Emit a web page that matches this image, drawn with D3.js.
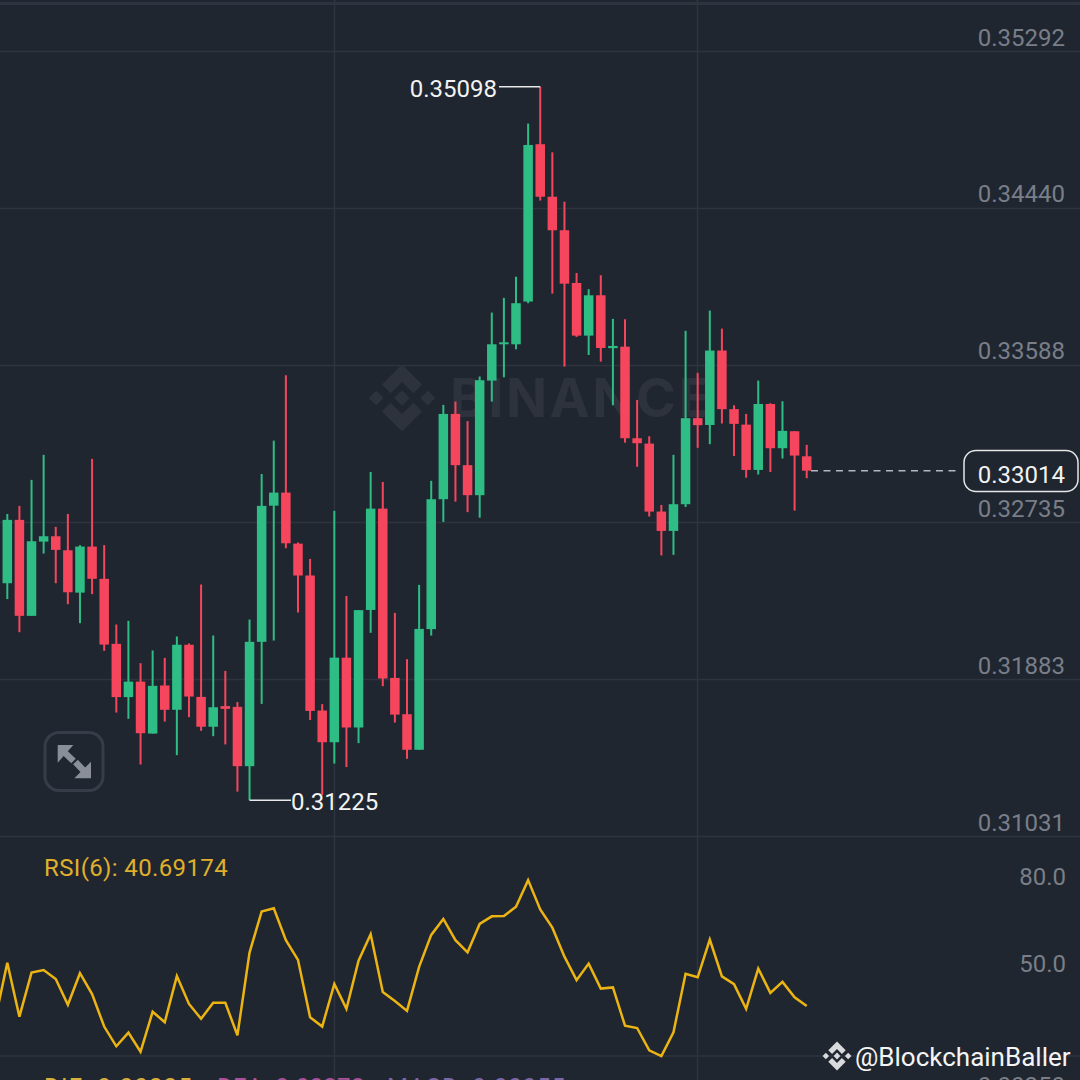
<!DOCTYPE html>
<html><head><meta charset="utf-8">
<script src="https://cdn.jsdelivr.net/npm/d3@7/dist/d3.min.js"></script>
<style>html,body{margin:0;padding:0;background:#1f2630;overflow:hidden}svg{display:block}text{font-family:Roboto,sans-serif}</style>
</head><body><svg id="c" width="1080" height="1080"></svg>
<script>
const opens=[.32403,.32747,.32226,.32629,.32658,.32582,.32352,.32602,.32427,.32074,.31785,.31869,.31587,.31848,.31716,.32069,.31786,.31624,.31736,.31732,.31410,.32085,.32824,.32895,.32618,.32445,.31712,.31540,.31999,.31620,.32258,.32808,.31889,.31692,.31499,.32154,.32859,.33322,.33044,.32881,.33503,.33700,.33700,.33932,.34786,.34501,.34319,.34033,.33747,.33966,.33679,.33687,.33190,.33161,.32792,.32687,.32832,.33299,.33262,.33666,.33348,.33264,.33018,.33376,.33136,.33228,.33092];
const highs=[.32779,.32823,.32964,.33100,.32709,.32779,.32610,.33078,.32610,.32179,.32199,.31969,.32038,.31998,.32114,.32076,.32396,.32119,.31927,.31758,.32206,.32996,.33177,.33532,.32624,.32535,.31747,.32796,.32334,.32257,.33007,.32953,.32242,.31991,.32394,.32959,.33371,.33389,.33283,.33525,.33872,.33952,.34067,.34898,.35098,.34742,.34474,.34087,.33999,.34075,.33838,.33836,.33398,.33201,.32828,.33100,.33773,.33545,.33883,.33785,.33369,.33322,.33503,.33380,.33391,.33228,.33154];
const lows=[.32317,.32137,.32226,.32564,.32403,.32289,.32186,.32344,.32036,.31701,.31667,.31419,.31587,.31652,.31470,.31676,.31602,.31573,.31528,.31272,.31225,.31748,.32092,.32593,.32244,.31661,.31254,.31424,.31405,.31535,.32134,.31844,.31647,.31450,.31499,.32119,.32736,.32846,.32789,.32759,.33389,.33521,.33673,.33923,.34480,.33975,.33579,.33740,.33642,.33606,.33369,.33166,.33035,.32765,.32554,.32557,.32817,.33138,.33158,.33270,.33094,.32976,.32993,.33007,.33080,.32797,.32973];
const closes=[.32747,.32226,.32631,.32658,.32584,.32354,.32602,.32427,.32070,.31785,.31869,.31589,.31846,.31716,.32069,.31788,.31624,.31730,.31721,.31410,.32085,.32823,.32895,.32620,.32445,.31710,.31540,.31999,.31620,.32257,.32808,.31886,.31690,.31499,.32155,.32859,.33322,.33044,.32881,.33505,.33700,.33711,.33923,.34782,.34501,.34319,.34029,.33747,.33966,.33680,.33691,.33190,.33163,.32792,.32687,.32832,.33299,.33261,.33666,.33348,.33268,.33018,.33376,.33136,.33230,.33096,.33014];
const rsiBeforeFirst=36.0;
const rsi=[55.6,37.0,52.2,53.1,50.0,41.1,52.0,44.8,33.6,26.8,31.5,24.9,38.7,35.1,51.0,41.4,36.3,41.8,41.8,30.6,59.1,73.3,74.4,63.4,56.6,36.8,33.6,48.3,39.7,56.3,65.4,45.5,42.4,39.0,54.2,65.2,70.7,63.4,59.2,69.0,71.6,71.7,74.9,84.1,74.0,67.7,57.7,49.6,55.3,46.7,47.1,33.9,33.1,25.4,23.4,31.6,51.8,50.6,63.6,50.9,48.2,39.7,53.6,45.2,49.0,43.7,40.69];
const priceTicks=[0.35292,0.34440,0.33588,0.32735,0.31883,0.31031];
const rsiTicks=[80,50];
const lastPrice=0.33014;
const rsiLabel="RSI(6): 40.69174";
const macdLabels=[["DIF: 0.00225","#d9b03a"],["DEA: 0.00278","#a9519a"],["MACD: 0.00055","#7c68a8"]];
const macdAxisLabel="0.00250";

const BG="#1f2630",GRID="#2e343f",AXIS="#797e88",GREEN="#2ebd85",RED="#f6465d";
const svg=d3.select("#c");
svg.append("rect").attr("width",1080).attr("height",1080).attr("fill",BG);
const x=d3.scaleLinear().domain([0,66]).range([7.3,806.7]);
const y=d3.scaleLinear().domain([0.31031,0.35292]).range([836,51]);
const yr=d3.scaleLinear().domain([50,80]).range([979,892]);

// grid
svg.append("line").attr("x1",0).attr("x2",1080).attr("y1",3.5).attr("y2",3.5).attr("stroke",GRID).attr("stroke-width",3);
[334.5,697.5].forEach(v=>svg.append("line").attr("x1",v).attr("x2",v).attr("y1",0).attr("y2",1080).attr("stroke",GRID).attr("stroke-width",1.5));
[1056].forEach(v=>svg.append("line").attr("x1",0).attr("x2",1080).attr("y1",v).attr("y2",v).attr("stroke",GRID).attr("stroke-width",1.5));
const gp=svg.append("g").call(d3.axisRight(y).tickValues(priceTicks).tickSize(1080).tickFormat(d3.format(".5f")));
gp.select(".domain").remove();
gp.selectAll("line").attr("stroke",GRID).attr("stroke-width",1.5);
gp.selectAll("text").attr("x",1065).attr("dy",-6).attr("y",0).attr("text-anchor","end").attr("fill",AXIS).style("font-size","24px").style("font-family","Roboto,sans-serif");
const gr=svg.append("g").call(d3.axisRight(yr).tickValues(rsiTicks).tickSize(0).tickFormat(d3.format(".1f")));
gr.select(".domain").remove();
gr.selectAll("text").attr("x",1066).attr("dy",-7.5).attr("y",0).attr("text-anchor","end").attr("fill",AXIS).style("font-size","24px").style("font-family","Roboto,sans-serif");

// logo
function logo(g,cx,cy,s,fill){
  const P=pts=>pts.map(p=>[cx+p[0]*s,cy+p[1]*s].join(",")).join(" ");
  const dia=(a,b,r)=>[[a,b-r],[a+r,b],[a,b+r],[a-r,b]];
  [dia(0,0,.235),dia(-.77,0,.225),dia(.77,0,.225),
   [[0,-1],[.6,-.4],[.34,-.14],[0,-.48],[-.34,-.14],[-.6,-.4]],
   [[0,1],[.6,.4],[.34,.14],[0,.48],[-.34,.14],[-.6,.4]]
  ].forEach(p=>g.append("polygon").attr("points",P(p)).attr("fill",fill));
}
logo(svg,402,398,33.5,"#2e323d");
svg.append("text").attr("x",450).attr("y",417).attr("fill","#2e323d").style("font-family","Inter,sans-serif").style("font-weight",700).style("font-size","54px").style("letter-spacing","2.5px").text("BINANCE");

// candles
const idx=d3.range(opens.length);
const col=i=>closes[i]>=opens[i]?GREEN:RED;
const c=svg.append("g").selectAll("g").data(idx).join("g");
c.append("rect").attr("x",i=>x(i)-1).attr("width",2).attr("y",i=>y(highs[i])).attr("height",i=>y(lows[i])-y(highs[i])).attr("fill",col);
c.append("rect").attr("x",i=>x(i)-4.75).attr("width",9.5).attr("y",i=>y(Math.max(opens[i],closes[i]))).attr("height",i=>Math.max(1.5,Math.abs(y(opens[i])-y(closes[i])))).attr("fill",col);

// high / low annotations
const iMax=d3.maxIndex(highs),iMin=d3.minIndex(lows);
svg.append("line").attr("x1",499).attr("x2",x(iMax)).attr("y1",y(highs[iMax])).attr("y2",y(highs[iMax])).attr("stroke","#e8e8e8").attr("stroke-width",1.5);
svg.append("text").attr("x",497).attr("y",y(highs[iMax])+10).attr("text-anchor","end").attr("fill","#f2f2f2").style("font-size","24px").text(highs[iMax].toFixed(5));
svg.append("line").attr("x1",x(iMin)).attr("x2",291).attr("y1",y(lows[iMin])).attr("y2",y(lows[iMin])).attr("stroke","#e8e8e8").attr("stroke-width",1.5);
svg.append("text").attr("x",291).attr("y",y(lows[iMin])+10).attr("fill","#f2f2f2").style("font-size","24px").text(lows[iMin].toFixed(5));

// last price
svg.append("line").attr("x1",811).attr("x2",960).attr("y1",y(lastPrice)).attr("y2",y(lastPrice)).attr("stroke","#b4b7bd").attr("stroke-width",1.5).attr("stroke-dasharray","7 5.5");
svg.append("rect").attr("x",964).attr("y",450.5).attr("width",114).attr("height",41).attr("rx",12).attr("fill",BG).attr("stroke","#e6e6e6").attr("stroke-width",1.5);
svg.append("text").attr("x",1065).attr("y",483).attr("text-anchor","end").attr("fill","#f2f2f2").style("font-size","24px").text(lastPrice.toFixed(5));

// expand button
svg.append("rect").attr("x",45).attr("y",732.5).attr("width",58).attr("height",58).attr("rx",14).attr("fill","none").attr("stroke","#363c48").attr("stroke-width",3);
const ic="#8a8e99";
[[[57.7,745],[73.3,745],[57.7,762.7]],[[91,761.7],[74.3,778.3],[91,778.3]]].forEach(p=>svg.append("polygon").attr("points",p.join(" ")).attr("fill",ic));
[[64,752,73.5,761],[75.5,762,84,771]].forEach(l=>svg.append("line").attr("x1",l[0]).attr("y1",l[1]).attr("x2",l[2]).attr("y2",l[3]).attr("stroke",ic).attr("stroke-width",6.5));

// RSI
svg.append("text").attr("x",44).attr("y",875.5).attr("fill","#e0b02c").style("font-size","24px").style("letter-spacing","0.37px").text(rsiLabel);
const rsiAll=[rsiBeforeFirst,...rsi];
svg.append("path").attr("d",d3.line().x((d,i)=>x(i-1)).y(d=>yr(d))(rsiAll)).attr("fill","none").attr("stroke","#ecb413").attr("stroke-width",2.5).attr("stroke-linejoin","miter");

// clipped MACD legend
const lx=[44,217,387],ls=[1.2,0.3,0.9];
macdLabels.forEach((m,i)=>svg.append("text").attr("x",lx[i]).attr("y",1095).attr("fill",m[1]).style("font-size","24px").style("letter-spacing",ls[i]+"px").text(m[0]));
svg.append("text").attr("x",1065).attr("y",1094).attr("text-anchor","end").attr("fill",AXIS).style("font-size","24px").text(macdAxisLabel);

// footer watermark
logo(svg,837,1056,14.5,"#d9dadd");
svg.append("text").attr("x",855).attr("y",1066).attr("fill","#f4f4f4").style("font-size","26px").text("@BlockchainBaller");
</script></body></html>
